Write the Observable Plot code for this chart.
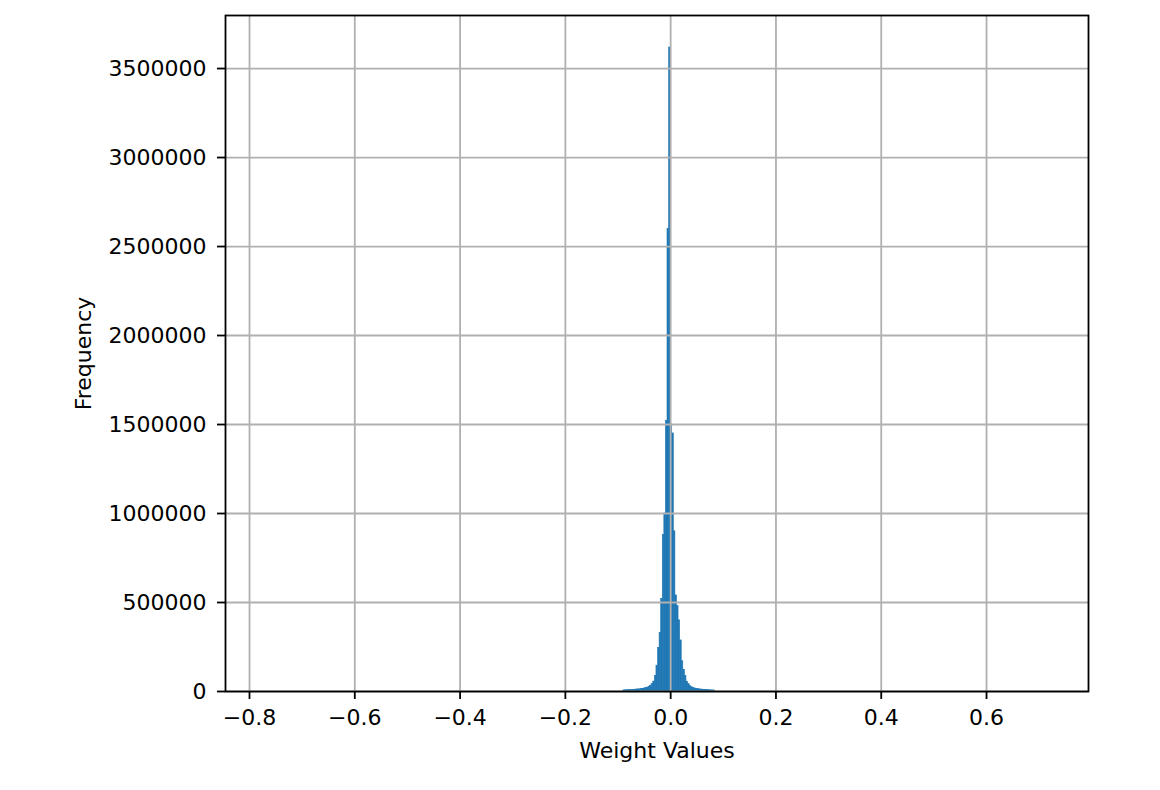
<!DOCTYPE html>
<html>
<head>
<meta charset="utf-8">
<script src="https://cdn.jsdelivr.net/npm/d3@7"></script>
<script src="https://cdn.jsdelivr.net/npm/@observablehq/plot@0.6"></script>
<style>
  html, body { margin: 0; padding: 0; background: #fff; }
  #chart svg { display: block; }
</style>
</head>
<body>
<div id="chart"></div>
<script>
// Histogram of weight values (bin width 0.003, first listed bin starts at -0.090)
const binStart = -0.090;
const binWidth = 0.003;
const counts = [
  6000, 7000, 7000, 8000, 8000, 9000, 9000, 10000, 11000, 12000,
  12000, 13000, 15000, 17000, 19000, 22000, 27000, 33000, 42000, 56000,
  88000, 145000, 245000, 330000, 520000, 880000, 1000000, 1520000, 2600000, 3618000,
  1500000, 1450000, 900000, 540000, 480000, 400000, 287000, 170000, 120000, 88000,
  55000, 42000, 30000, 24000, 20000, 17000, 14000, 13000, 12000, 11000,
  10000, 9000, 8000, 8000, 7000, 7000, 6000, 6000
];
const xTicks = [-0.8, -0.6, -0.4, -0.2, 0.0, 0.2, 0.4, 0.6];
const yTicks = [0, 500000, 1000000, 1500000, 2000000, 2500000, 3000000, 3500000];
const xDomain = [-0.8456, 0.7937];
const yDomain = [0, 3798000];
const xLabel = "Weight Values";
const yLabel = "Frequency";

const bins = counts.map((c, i) => ({
  x1: binStart + i * binWidth,
  x2: binStart + (i + 1) * binWidth,
  count: c
}));

const fmtX = d3.format(".1f");
const fmtY = d3.format("d");

const chart = Plot.plot({
  width: 1160,
  height: 790,
  marginLeft: 225,
  marginRight: 72,
  marginTop: 15,
  marginBottom: 99,
  style: { fontFamily: "DejaVu Sans", fontSize: "22px", color: "#000", background: "#fff" },
  x: { domain: xDomain, axis: null },
  y: { domain: yDomain, axis: null },
  marks: [
    Plot.rectY(bins, { x1: "x1", x2: "x2", y: "count", fill: "#1f77b4", stroke: "#1f77b4", strokeWidth: 0.6 }),
    Plot.ruleX(xTicks, { stroke: "#b0b0b0", strokeWidth: 1.8 }),
    Plot.ruleY(yTicks, { stroke: "#b0b0b0", strokeWidth: 1.8 }),
    Plot.frame({ stroke: "#000", strokeWidth: 1.8 }),
    Plot.axisX(xTicks, { tickFormat: fmtX, tickSize: 8, tickPadding: 10, strokeWidth: 1.8, fontSize: 22, label: null }),
    Plot.axisY(yTicks, { tickFormat: fmtY, tickSize: 8, tickPadding: 11, strokeWidth: 1.8, fontSize: 22, label: null }),
    Plot.text([xLabel], { frameAnchor: "bottom", dy: 59, textAnchor: "middle", lineAnchor: "middle", fontSize: 22, fill: "#000" }),
    Plot.text([yLabel], { frameAnchor: "left", dx: -142, rotate: -90, textAnchor: "middle", lineAnchor: "middle", fontSize: 22, fill: "#000" })
  ]
});
document.getElementById("chart").appendChild(chart);
</script>
</body>
</html>
